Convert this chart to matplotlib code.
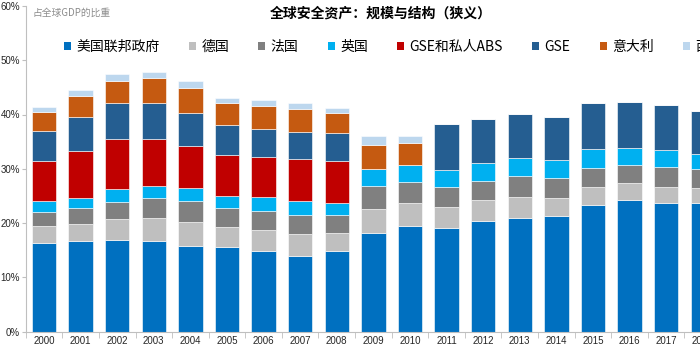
import numpy as np
import matplotlib.pyplot as plt
from matplotlib.patches import Patch

plt.rcParams['font.family'] = ['Noto Sans CJK SC', 'DejaVu Sans']

years = [str(y) for y in range(2000, 2019)]
series_names = ['美国联邦政府', '德国', '法国', '英国', 'GSE和私人ABS', 'GSE', '意大利', '西班牙']
colors = ['#0070C0', '#BFBFBF', '#808080', '#00B0F0', '#C00000', '#255E91', '#C55A11', '#BDD7EE']

us = [16.3, 16.6, 16.9, 16.6, 15.8, 15.5, 14.9, 13.9, 14.8, 18.2, 19.4, 19.1, 20.3, 20.9, 21.3, 23.4, 24.2, 23.6, 23.7]
de = [3.1, 3.3, 3.8, 4.3, 4.3, 3.8, 3.9, 4.1, 3.4, 4.4, 4.3, 3.9, 3.9, 3.9, 3.4, 3.3, 3.1, 3.0, 2.8]
fr = [2.7, 2.9, 3.2, 3.7, 3.9, 3.5, 3.5, 3.5, 3.3, 4.3, 3.9, 3.6, 3.6, 3.9, 3.6, 3.4, 3.4, 3.7, 3.5]
uk = [2.0, 1.9, 2.4, 2.3, 2.5, 2.2, 2.5, 2.5, 2.2, 3.1, 3.0, 3.2, 3.3, 3.3, 3.4, 3.5, 3.1, 3.2, 2.8]
gse_abs = [7.4, 8.6, 9.1, 8.6, 7.7, 7.5, 7.4, 7.8, 7.8, 0, 0, 0, 0, 0, 0, 0, 0, 0, 0]
gse = [5.5, 6.3, 6.8, 6.7, 6.1, 5.5, 5.2, 5.0, 5.0, 0, 0, 8.4, 8.1, 8.1, 7.9, 8.5, 8.5, 8.3, 7.9]
it = [3.5, 3.8, 4.0, 4.6, 4.5, 4.1, 4.1, 4.2, 3.7, 4.4, 4.1, 0, 0, 0, 0, 0, 0, 0, 0]
es = [0.9, 1.1, 1.3, 1.1, 1.4, 1.0, 1.2, 1.1, 1.0, 1.6, 1.4, 0, 0, 0, 0, 0, 0, 0, 0]

data = [us, de, fr, uk, gse_abs, gse, it, es]

fig = plt.figure(figsize=(7, 3.5), dpi=100)
# axes run past the right edge of the picture, as in the cropped original
ax = fig.add_axes([25.7 / 700, 18.5 / 350, 695.4 / 700, 325.5 / 350])

x = np.arange(len(years))
bottom = np.zeros(len(years))
for vals, c in zip(data, colors):
    vals = np.array(vals)
    ax.bar(x, vals, 0.67, bottom=bottom, color=c, edgecolor='white', linewidth=0.4)
    bottom += vals

ax.set_xlim(-0.5, 18.5)
ax.set_ylim(0, 60)
ax.set_yticks(range(0, 61, 10))
ax.set_yticklabels([f'{v}%' for v in range(0, 61, 10)])
ax.set_xticks(x)
ax.set_xticklabels(years)
ax.set_xticks(np.arange(-0.5, 19, 1), minor=True)
ax.tick_params(axis='x', which='major', length=0, pad=3)
ax.tick_params(axis='x', which='minor', length=4, color='#BFBFBF')
ax.tick_params(axis='y', length=3, color='#BFBFBF', pad=1)
for lab in ax.get_xticklabels() + ax.get_yticklabels():
    lab.set_family(['Liberation Sans', 'DejaVu Sans'])
    lab.set_fontsize(7)
    lab.set_color('#262626')

for s in ['top', 'right']:
    ax.spines[s].set_visible(False)
for s in ['left', 'bottom']:
    ax.spines[s].set_color('#BFBFBF')
    ax.spines[s].set_linewidth(0.8)

fig.text(381 / 700, 1 - 14 / 350, '全球安全资产：规模与结构（狭义）', ha='center', va='center',
         fontsize=10, fontweight='bold', color='black')
fig.text(33 / 700, 1 - 13 / 350, '占全球GDP的比重', ha='left', va='center',
         fontsize=7, color='#8C8C8C')

handles = [Patch(facecolor=c, edgecolor='none') for c in colors]
fig.legend(handles, series_names, loc='center left', bbox_to_anchor=(64 / 700, 1 - 47 / 350),
           ncol=8, frameon=False, fontsize=10, handlelength=0.5, handleheight=0.5,
           handletextpad=0.4, columnspacing=2.1, borderpad=0, borderaxespad=0)

fig.savefig('out.png', dpi=100)
